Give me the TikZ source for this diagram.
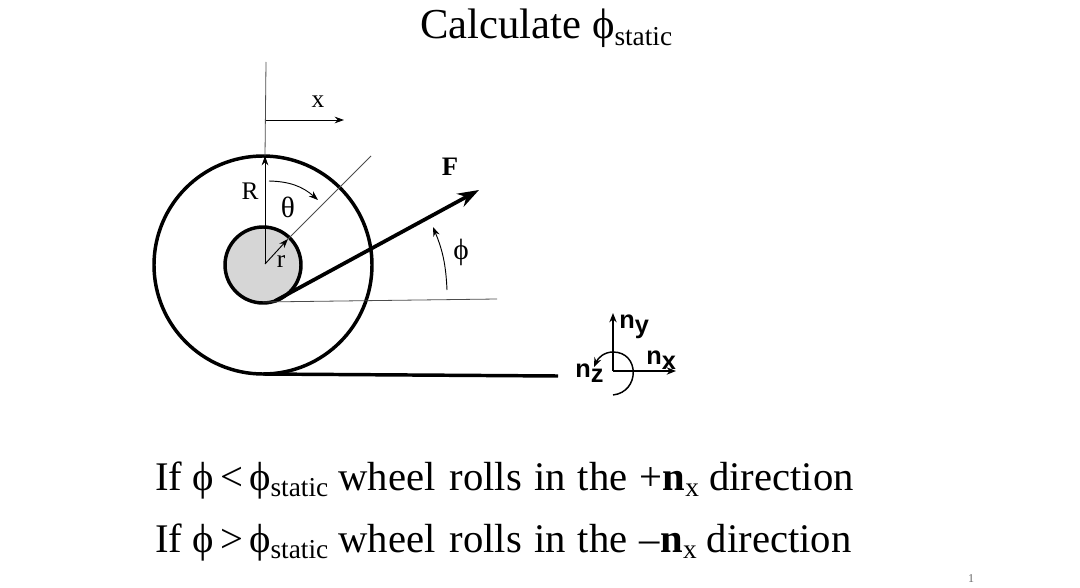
\documentclass[tikz,border=0pt]{standalone}
\usepackage{fontspec}
\setmainfont{Liberation Serif}
\setsansfont{Liberation Sans}
\usetikzlibrary{arrows.meta}
\tikzset{
  heavy/.style={line width=2.6pt},
  hair/.style={line width=0.6pt,black!70},
  thinarrow/.style={line width=0.7pt,-{Stealth[length=7pt,width=5pt]}},
  label/.style={inner sep=0pt,font=\fontsize{19}{19}\selectfont},
  greek/.style={inner sep=0pt,font=\fontsize{22}{22}\selectfont},
  slide/.style={inner sep=0pt,anchor=base west,font=\fontsize{30.5}{30.5}\selectfont},
  axis/.style={line width=1.1pt,-{Stealth[length=7pt,width=5.5pt]}},
  axislabel/.style={inner sep=0pt,anchor=base west,font=\sffamily\bfseries\fontsize{19}{19}\selectfont}
}
\newcommand{\phisym}{\symbol{"03D5}}
\newcommand{\lowsub}[1]{\raisebox{-5pt}{\fontsize{20.5}{20.5}\selectfont #1}}
\newcommand{\axissub}[1]{\raisebox{-3.75pt}{#1}}
\begin{document}
\begin{tikzpicture}[x=0.75pt,y=-0.75pt]
  \useasboundingbox (0,0) rectangle (1080,588);

  \node[slide,font=\fontsize{32}{32}\selectfont] (title) at (420,39) {Calculate \phisym\lowsub{static}};

  % wheel
  \coordinate (center) at (263,265);
  \draw[heavy,fill=black!16] (center) circle [radius=38];
  \draw[heavy] (center) circle [radius=109];

  % axes of the wheel
  \coordinate (top) at (266,62);
  \coordinate (rimtop) at (265,156);
  \coordinate (hubcenter) at (265,264);
  \draw[hair] (top) -- (rimtop);
  \draw[thinarrow] (hubcenter) -- (rimtop);
  \node[label] (Rlabel) at (250,191) {R};

  \coordinate (xstart) at (266,120);
  \coordinate (xend) at (344,120);
  \draw[thinarrow] (xstart) -- (xend);
  \node[label] (xlabel) at (318,102) {x};

  % theta and r
  \coordinate (thetaend) at (371,156);
  \coordinate (hubedge) at (288,239);
  \draw[hair] (hubedge) -- (thetaend);
  \draw[thinarrow] (hubcenter) -- (hubedge);
  \node[label] (rlabel) at (281,262) {r};
  \coordinate (thetastart) at (269,181);
  \coordinate (thetatip) at (318,200);
  \draw[thinarrow] (thetastart) to[bend left=20] (thetatip);
  \node[greek] (thetalabel) at (288,207) {\symbol{"03B8}};

  % force
  \coordinate (Fstart) at (275,301);
  \coordinate (Ftip) at (479,190);
  \draw[line width=2.8pt,-{Stealth[length=16pt,width=11pt]}] (Fstart) -- (Ftip);
  \node[label,font=\bfseries\fontsize{20}{20}\selectfont] (Flabel) at (450,167) {F};

  % phi
  \coordinate (horizontal) at (497,299);
  \draw[hair] (263,302) -- (horizontal);
  \coordinate (phistart) at (447,290);
  \coordinate (phitip) at (433,227);
  \draw[thinarrow] (phistart) to[bend right=10] (phitip);
  \node[greek] (philabel) at (461,252) {\phisym};

  % ground
  \coordinate (groundstart) at (263,374);
  \coordinate (groundend) at (558,376);
  \draw[heavy] (groundstart) -- (groundend);

  % unit vectors
  \coordinate (origin) at (613,371);
  \coordinate (nytip) at (613,313);
  \coordinate (nxtip) at (676,371);
  \draw[axis] (origin) -- (nytip);
  \draw[axis] (origin) -- (nxtip);
  \draw[axis] (613,395) .. controls (640,392) and (640,352) .. (613,352) .. controls (604,352) and (598,358) .. (594,367);
  \node[axislabel] (nylabel) at (619,328) {n\axissub{y}};
  \node[axislabel] (nxlabel) at (646,364) {n\axissub{x}};
  \node[axislabel] (nzlabel) at (575,377) {n\axissub{z}};

  % conditions
  \node[slide] (lineone) at (155,490) {If \phisym{}\hspace{-3pt} <\hspace{-3pt} \phisym\lowsub{static} wheel\hspace{3pt} rolls\hspace{1.5pt} in\hspace{1.5pt} the\hspace{1.5pt} +\textbf{n}\lowsub{x} direction};
  \node[slide] (linetwo) at (155,552) {If \phisym{}\hspace{-3pt} >\hspace{-3pt} \phisym\lowsub{static} wheel\hspace{3pt} rolls\hspace{1.5pt} in\hspace{1.5pt} the\hspace{1.5pt} –\textbf{n}\lowsub{x} direction};

  \node[inner sep=0pt,text=black!60,font=\fontsize{9}{9}\selectfont] (page) at (971,579) {1};
\end{tikzpicture}
\end{document}
